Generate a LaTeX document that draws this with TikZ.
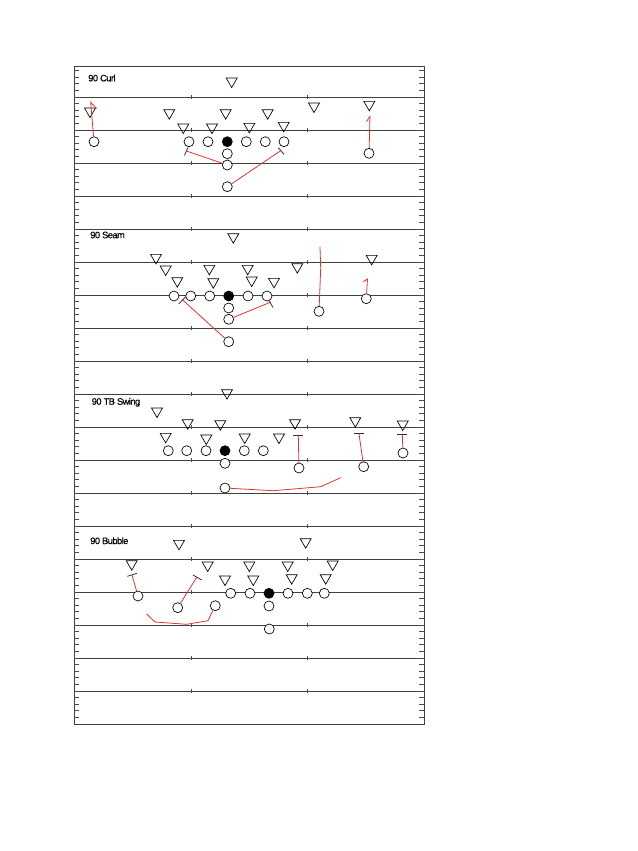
\documentclass[tikz,border=0pt]{standalone}
\usepackage{fontspec}
\setmainfont{Liberation Sans}
\newfontfamily\playfont[LetterSpace=-6,FakeBold=0.6]{Liberation Sans}
\usetikzlibrary{shapes.geometric}
\definecolor{routered}{RGB}{226,52,52}
\begin{document}
\begin{tikzpicture}[x=0.75pt,y=-0.75pt]
       \tikzstyle{yardline} = [draw=black!75, line width=0.7pt]
       \tikzstyle{hash} = [draw=black!70, line width=0.5pt]
       \tikzstyle{route} = [draw=routered, line width=0.6pt]
       \tikzstyle{blockbar} = [draw=black!80, line width=0.6pt]
       \tikzstyle{dman} = [regular polygon, regular polygon sides=3, shape border rotate=180, draw=black, line width=0.5pt, inner sep=0pt, minimum size=9.5pt, yshift=1.1pt]
       \tikzstyle{oman} = [circle, draw=black, line width=0.5pt, fill=white, inner sep=0pt, minimum size=7.5pt]
       \tikzstyle{snap} = [oman, fill=black]
       \tikzstyle{playname} = [anchor=west, inner sep=0pt, font=\playfont\fontsize{7}{8}\selectfont]
       \useasboundingbox (0,0) rectangle (638,851);

       \draw[yardline] (74,66) rectangle (424,724);
        \foreach \k in {0,...,18}
        {
          \draw[yardline] (74,97+33*\k) -- (424,97+33*\k);
          \draw[hash] (191,95+33*\k) -- (191,99+33*\k);
          \draw[hash] (307,95+33*\k) -- (307,99+33*\k);
        }
        \foreach \m in {-4,...,94}
        {
          \draw[hash] (74,97+6.6*\m) -- (79,97+6.6*\m);
          \draw[hash] (419,97+6.6*\m) -- (424,97+6.6*\m);
        }

       \node (name-1) [playname] at (88,78) {90 Curl};
       \node (name-2) [playname] at (90,235) {90 Seam};
       \node (name-3) [playname] at (91.5,402.3) {90 TB Swing};
       \node (name-4) [playname] at (90,540.7) {90 Bubble};

        \foreach \i/\x/\y in {1/231.7/82.7,2/90/112.7,3/169.3/114.3,4/225.7/114.3,5/267.7/114.3,6/314/107.7,7/369.3/106,8/183.3/128.7,9/212/128.7,10/249.3/128,11/283.7/127}
          \path[] node[dman] (D-1-\i) at (\x,\y) {};
        \foreach \i/\x/\y in {1/233.3/238.3,2/156/259,3/165.7/270.7,4/209.3/270,5/247.7/270,6/297.3/268.3,7/371.7/260,8/177.3/282.3,9/213.3/283.3,10/251.7/281.7,11/274/283}
          \path[] node[dman] (D-2-\i) at (\x,\y) {};
        \foreach \i/\x/\y in {1/227/394.3,2/157/412.7,3/187.7/424.3,4/220.3/425.3,5/295/424.3,6/355.3/422.3,7/402.7/425.7,8/165.7/438,9/206.3/439.7,10/244.7/438.7,11/279/438.7}
          \path[] node[dman] (D-3-\i) at (\x,\y) {};
        \foreach \i/\x/\y in {1/179/545,2/305.7/543.3,3/131.7/565.3,4/207.7/566.7,5/249.3/566.7,6/287.7/566.7,7/332.7/565.7,8/225/580.7,9/253.3/580.7,10/291.7/579.3,11/325.7/579.3}
          \path[] node[dman] (D-4-\i) at (\x,\y) {};

        \foreach \n/\x/\y in {wl/94/141.7,lt/189/141.7,lg/208/141.7,rg/246.3/141.7,rt/265.3/141.7,te/284/141.7,qb/227.3/153.7,fb/227.3/165,tb/227.3/186.7,wr/369/153.3}
          \path[] node[oman] (O-1-\n) at (\x,\y) {};
       \path[] node[snap] (O-1-c) at (227.3,141.7) {};
        \foreach \n/\x/\y in {ot/174/296,lt/190.7/296,lg/209.7/296,rg/248/296,rt/267/296,qb/228.7/308,fb/228.7/319.3,tb/228.7/341.7,sl/319/311.3,wr/366.3/298.7}
          \path[] node[oman] (O-2-\n) at (\x,\y) {};
       \path[] node[snap] (O-2-c) at (228.7,296) {};
        \foreach \n/\x/\y in {l3/168.3/450.7,l2/186.7/450.7,l1/206/450.7,r1/244.3/450.7,r2/263.3/450.7,qb/225/463.3,tb/225/488,s1/299/468,s2/363.7/466.7,s3/403/453}
          \path[] node[oman] (O-3-\n) at (\x,\y) {};
       \path[] node[snap] (O-3-c) at (225,450.7) {};
        \foreach \n/\x/\y in {w1/138/596,w2/177.7/607.7,w3/215.3/605.7,l2/230.7/593.3,l1/250/593.3,r1/288/593.3,r2/307.3/593.3,r3/324.3/593.3,qb/269/606,tb/269.3/629}
          \path[] node[oman] (O-4-\n) at (\x,\y) {};
       \path[] node[snap] (O-4-c) at (269,593.3) {};

       \coordinate (r-1-a) at (90.7,102.3);
       \coordinate (r-1-b) at (96.5,108.5);
       \coordinate (r-1-c) at (370,116.5);
       \coordinate (r-1-d) at (366.5,121.5);
       \coordinate (b-1-a) at (186.5,151);
       \coordinate (b-1-a1) at (184.5,155.5);
       \coordinate (b-1-a2) at (188,147.5);
       \coordinate (b-1-b) at (281,150.5);
       \coordinate (b-1-b1) at (278.3,147.7);
       \coordinate (b-1-b2) at (284,154.3);
       \draw [route] (O-1-wl) -- (r-1-a) -- (r-1-b);
       \draw [route] (O-1-wr) -- (r-1-c) -- (r-1-d);
       \draw [route] (O-1-fb) -- (b-1-a);
       \draw [route] (O-1-tb) -- (b-1-b);
       \draw [blockbar] (b-1-a1) -- (b-1-a2);
       \draw [blockbar] (b-1-b1) -- (b-1-b2);

       \coordinate (b-2-a) at (182.7,300);
       \coordinate (b-2-a1) at (178.7,304);
       \coordinate (b-2-a2) at (185.7,296.7);
       \coordinate (b-2-b) at (271,302);
       \coordinate (b-2-b1) at (269,300.5);
       \coordinate (b-2-b2) at (273,307.5);
       \coordinate (r-2-a) at (320.7,268.3);
       \coordinate (r-2-b) at (320,246.7);
       \coordinate (r-2-c) at (367.5,279);
       \coordinate (r-2-d) at (363.3,281.7);
       \draw [route] (O-2-tb) -- (b-2-a);
       \draw [route] (O-2-fb) -- (b-2-b);
       \draw [route] (O-2-sl) -- (r-2-a) -- (r-2-b);
       \draw [route] (O-2-wr) -- (r-2-c) -- (r-2-d);
       \draw [blockbar] (b-2-a1) -- (b-2-a2);
       \draw [blockbar] (b-2-b1) -- (b-2-b2);

       \coordinate (r-3-a) at (273.3,490.7);
       \coordinate (r-3-b) at (320.7,486.7);
       \coordinate (r-3-c) at (340.7,477.7);
       \draw [route] (O-3-tb) -- (r-3-a) -- (r-3-b) -- (r-3-c);
        \foreach \n/\x/\y in {s1/298.3/435.7,s2/359/433.7,s3/402.3/434.3}
        {
          \coordinate (b-3-\n) at (\x,\y);
          \draw [route] (O-3-\n) -- (b-3-\n);
          \draw [blockbar] ([xshift=-3.8pt]b-3-\n) -- ([xshift=3.8pt]b-3-\n);
        }

       \coordinate (b-4-a) at (132,575);
       \coordinate (b-4-a1) at (127.3,576.3);
       \coordinate (b-4-a2) at (137,573.3);
       \coordinate (b-4-b) at (196.7,577.3);
       \coordinate (b-4-b1) at (193,575);
       \coordinate (b-4-b2) at (201.7,580);
       \coordinate (r-4-a) at (208,620.7);
       \coordinate (r-4-b) at (186.7,624.3);
       \coordinate (r-4-c) at (155,622);
       \coordinate (r-4-d) at (146.7,614);
       \draw [route] (O-4-w1) -- (b-4-a);
       \draw [route] (O-4-w2) -- (b-4-b);
       \draw [route] (O-4-w3) -- (r-4-a) -- (r-4-b) -- (r-4-c) -- (r-4-d);
       \draw [blockbar] (b-4-a1) -- (b-4-a2);
       \draw [blockbar] (b-4-b1) -- (b-4-b2);

   \end{tikzpicture}
\end{document}
